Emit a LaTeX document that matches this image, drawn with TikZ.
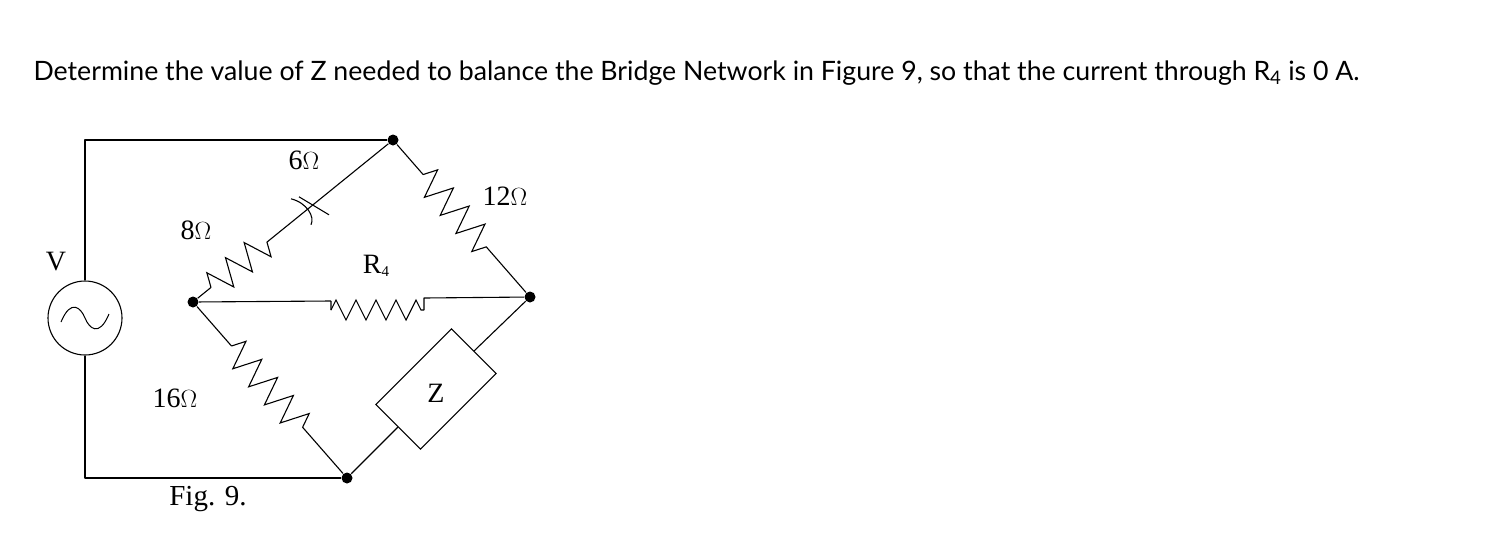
\documentclass[tikz,border=0pt]{standalone}
\usepackage{fontspec}
\setmainfont{Liberation Serif}
\newfontfamily\latofont{Lato}
\usetikzlibrary{decorations.pathmorphing,calc}
\begin{document}
\begin{tikzpicture}[x=1pt,y=-1pt,line width=1.1pt,
  wire/.style={draw,line join=round},
  res/.style={decorate,decoration={zigzag,segment length=24pt,amplitude=14pt}},
  dot/.style={circle,fill,inner sep=0pt,minimum size=11pt},
  lab/.style={font=\fontsize{28}{28}\selectfont,inner sep=0pt}]
\useasboundingbox (0,0) rectangle (1485,547);
\node[anchor=base west,inner sep=0pt,font=\latofont\fontsize{26.7}{27}\selectfont] (title) at (33,80)
 {Determine the value of Z needed to balance the Bridge Network in Figure 9, so that the current through R\textsubscript{4} is 0 A.};
\node[dot] (T) at (393,140) {};
\node[dot] (L) at (193,302) {};
\node[dot] (R) at (530,297) {};
\node[dot] (B) at (347,478) {};
\coordinate (TL) at (85,140);
\coordinate (BL) at (85,478);
\node[draw,circle,minimum size=74pt,inner sep=0pt] (src) at (85,318) {};
\draw[line width=1pt] ($(src.center)+(-24,4)$) .. controls ($(src.center)+(-14,-20)$) and ($(src.center)+(-4,-10)$) .. (src.center) .. controls ($(src.center)+(4,10)$) and ($(src.center)+(14,20)$) .. ($(src.center)+(24,-4)$);
\draw[wire] (src.north) -- (TL) -- (T);
\draw[wire] (src.south) -- (BL) -- (B);
% 8 ohm + 6 ohm branch
\draw[wire] (L) -- ($(L)!0.09!(T)$);
\draw[res] ($(L)!0.09!(T)$) -- ($(L)!0.38!(T)$);
\draw[wire] ($(L)!0.38!(T)$) -- (T);
\coordinate (six) at ($(L)!0.6!(T)$);
\draw ($(six)+(-14,-8)$) -- ($(six)+(16,10)$);
\draw ($(six)+(-22,-6)$) .. controls ($(six)+(-6,-2)$) and ($(six)+(2,12)$) .. ($(six)+(-2,20)$);
% 12 ohm
\draw[wire] (T) -- ($(T)!0.22!(R)$);
\draw[res] ($(T)!0.22!(R)$) -- ($(T)!0.72!(R)$);
\draw[wire] ($(T)!0.72!(R)$) -- (R);
% R4
\draw[wire] (L) -- (331,301);
\draw[res,decoration={zigzag,segment length=20pt,amplitude=10pt}] (331,310) -- (424,310);
\draw[wire] (331,301) -- (331,310) (424,310) -- (424,298) -- (R);
% 16 ohm
\draw[wire] (L) -- ($(L)!0.25!(B)$);
\draw[res] ($(L)!0.25!(B)$) -- ($(L)!0.72!(B)$);
\draw[wire] ($(L)!0.72!(B)$) -- (B);
% Z
\node[draw,rotate=45,minimum width=107pt,minimum height=63pt,inner sep=0pt,line width=1.1pt] (Z) at (436,389) {};
\node[lab] at (436,393) {Z};
\draw[wire] (B) -- (Z.west);
\draw[wire] (Z.east) -- (R);
% labels
\node[lab] (v) at (56,262) {V};
\node[lab] at (196,230) {8$\Omega$};
\node[lab] at (304,160) {6$\Omega$};
\node[lab] at (505,196) {12$\Omega$};
\node[lab] at (376,266) {R\raisebox{-0.2ex}{\fontsize{15}{15}\selectfont 4}};
\node[lab] at (175,398) {16$\Omega$};
\node[lab,font=\fontsize{29}{29}\selectfont] at (208,499) {Fig. 9.};
\end{tikzpicture}
\end{document}
